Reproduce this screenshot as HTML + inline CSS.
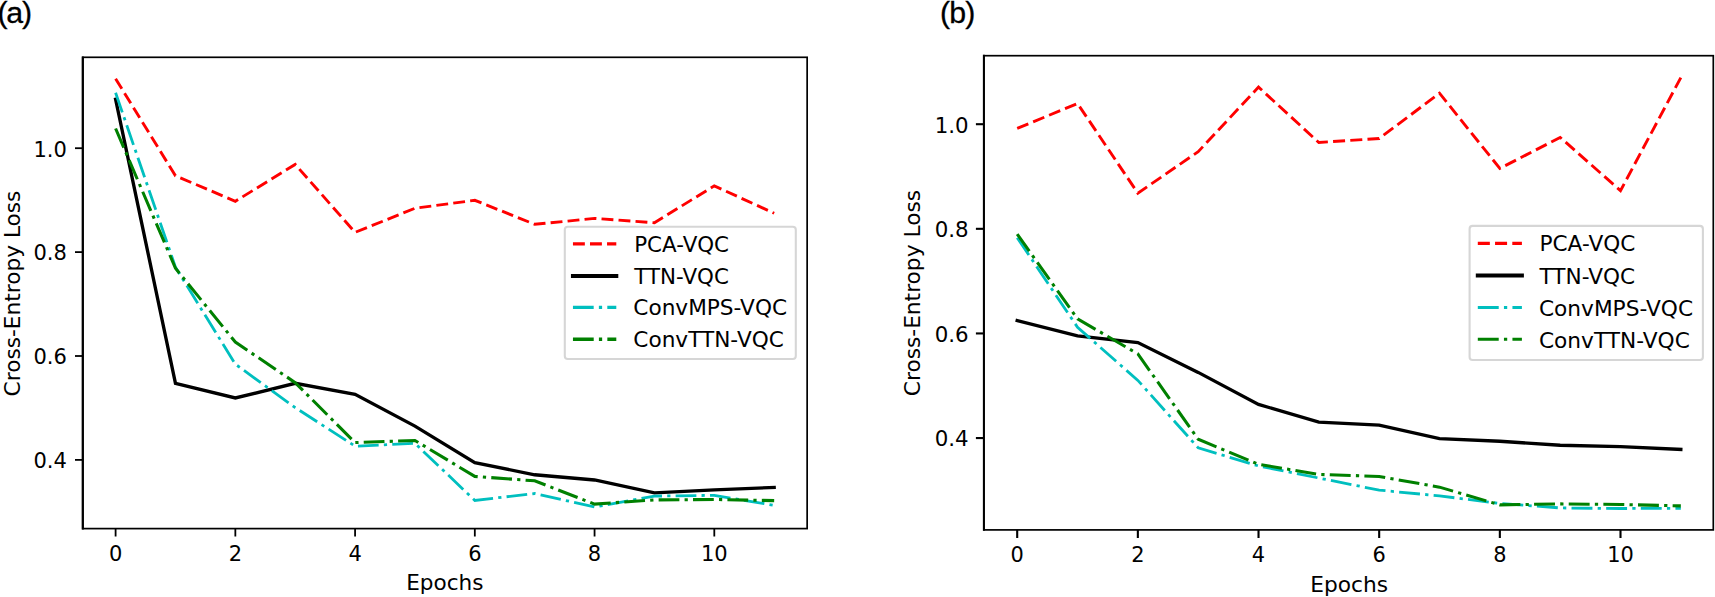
<!DOCTYPE html>
<html lang="en">
<head>
<meta charset="utf-8">
<title>Cross-Entropy Loss vs Epochs</title>
<style>
html,body{margin:0;padding:0;background:#fff;}
body{width:1715px;height:597px;overflow:hidden;}
svg{display:block;}
</style>
</head>
<body>
<svg width="1715" height="597" viewBox="0 0 1715 597" font-family="'DejaVu Sans', 'Liberation Sans', sans-serif">
<rect width="1715" height="597" fill="#fff"/>
<clipPath id="clip1"><rect x="82.9" y="57.3" width="724.25" height="471.3"/></clipPath>
<g clip-path="url(#clip1)" fill="none" stroke-width="3.22" stroke-linejoin="miter" stroke-miterlimit="6">
<polyline points="115.6,78.7 175.47,175.78 235.34,201.26 295.21,164.4 355.08,232.36 414.95,208.28 474.82,200.28 534.69,224.3 594.56,218.42 654.43,222.79 714.3,185.82 774.17,213.28" stroke="#ff0000" stroke-width="2.9" stroke-dasharray="11.899 5.146" stroke-linecap="butt"/>
<polyline points="115.6,99.24 175.47,383.32 235.34,397.98 295.21,383.32 355.08,394.29 414.95,426.11 474.82,462.72 534.69,474.78 594.56,479.98 654.43,492.88 714.3,489.92 774.17,487.42" stroke="#000000" stroke-width="3.35" stroke-linecap="square"/>
<polyline points="115.6,92.74 175.47,267.2 235.34,364.18 295.21,407.6 355.08,446.18 414.95,443.38 474.82,500.42 534.69,493.5 594.56,506.97 654.43,496.1 714.3,495.32 774.17,505.31" stroke="#00bfbf" stroke-width="2.8" stroke-dasharray="20.736 5.184 3.240 5.184" stroke-linecap="butt"/>
<polyline points="115.6,128.52 175.47,268.24 235.34,342.08 295.21,382.64 355.08,442.6 414.95,440.46 474.82,476.4 534.69,480.82 594.56,504.11 654.43,499.9 714.3,499.48 774.17,500.63" stroke="#008000" stroke-width="3.05" stroke-dasharray="20.768 5.192 3.245 5.192" stroke-linecap="butt"/>
</g>
<g stroke="#000" stroke-width="1.8" fill="none">
<line x1="115.6" y1="528.6" x2="115.6" y2="536.5"/>
<line x1="235.34" y1="528.6" x2="235.34" y2="536.5"/>
<line x1="355.08" y1="528.6" x2="355.08" y2="536.5"/>
<line x1="474.82" y1="528.6" x2="474.82" y2="536.5"/>
<line x1="594.56" y1="528.6" x2="594.56" y2="536.5"/>
<line x1="714.3" y1="528.6" x2="714.3" y2="536.5"/>
<line x1="82.9" y1="148.2" x2="75" y2="148.2"/>
<line x1="82.9" y1="252.1" x2="75" y2="252.1"/>
<line x1="82.9" y1="356" x2="75" y2="356"/>
<line x1="82.9" y1="459.9" x2="75" y2="459.9"/>
</g>
<rect x="82.9" y="57.3" width="724.25" height="471.3" fill="none" stroke="#000" stroke-width="1.7" stroke-linejoin="miter"/>
<line x1="82.75" y1="56.45" x2="82.75" y2="529.45" stroke="#000" stroke-width="2.2"/>
<g font-size="21.2" fill="#000">
<text x="115.6" y="560.5" text-anchor="middle" font-size="21.0">0</text>
<text x="235.34" y="560.5" text-anchor="middle" font-size="21.0">2</text>
<text x="355.08" y="560.5" text-anchor="middle" font-size="21.0">4</text>
<text x="474.82" y="560.5" text-anchor="middle" font-size="21.0">6</text>
<text x="594.56" y="560.5" text-anchor="middle" font-size="21.0">8</text>
<text x="714.3" y="560.5" text-anchor="middle" font-size="21.0">10</text>
<text x="66.9" y="156.7" text-anchor="end" font-size="21.0">1.0</text>
<text x="66.9" y="259.8" text-anchor="end" font-size="21.0">0.8</text>
<text x="66.9" y="364.3" text-anchor="end" font-size="21.0">0.6</text>
<text x="66.9" y="467.8" text-anchor="end" font-size="21.0">0.4</text>
<text x="406.15" y="590" textLength="77.3" lengthAdjust="spacingAndGlyphs" font-size="20.9">Epochs</text>
<text transform="translate(19.8,293.5) rotate(-90)" x="-102.9" y="0" textLength="205.8" lengthAdjust="spacingAndGlyphs" font-size="20.9">Cross-Entropy Loss</text>
</g>
<rect x="564.8" y="226.8" width="231" height="132.2" rx="3" ry="3" fill="#fff" fill-opacity="0.8" stroke="#cccccc" stroke-opacity="0.8" stroke-width="2.1"/>
<g font-size="21.4" fill="#000" stroke-width="3.22">
<line x1="572.95" y1="243.9" x2="616.3" y2="243.9" stroke="#ff0000" stroke-width="3.22" stroke-dasharray="11.899 5.146"/>
<text x="634.2" y="251.8" font-size="21.4">PCA-VQC</text>
<line x1="572.95" y1="275.9" x2="616.3" y2="275.9" stroke="#000000" stroke-width="4.0" stroke-linecap="square"/>
<text x="634.2" y="283.8" font-size="21.4">TTN-VQC</text>
<line x1="572.95" y1="307.4" x2="616.3" y2="307.4" stroke="#00bfbf" stroke-width="3.22" stroke-dasharray="20.736 5.184 3.240 5.184"/>
<text x="633.3" y="315.3" font-size="21.63">ConvMPS-VQC</text>
<line x1="572.95" y1="339.2" x2="616.3" y2="339.2" stroke="#008000" stroke-width="3.6" stroke-dasharray="20.768 5.192 3.245 5.192"/>
<text x="633.3" y="347.1" font-size="21.63">ConvTTN-VQC</text>
</g>
<clipPath id="clip2"><rect x="984" y="55.7" width="729.3" height="474.2"/></clipPath>
<g clip-path="url(#clip2)" fill="none" stroke-width="3.22" stroke-linejoin="miter" stroke-miterlimit="6">
<polyline points="1017.2,128.39 1077.53,103.52 1137.86,193.2 1198.19,151.68 1258.52,87.08 1318.85,142.52 1379.18,138.49 1439.51,93.21 1499.84,168.44 1560.17,137.39 1620.5,190.68 1680.83,77.61" stroke="#ff0000" stroke-width="2.9" stroke-dasharray="12.040 5.206" stroke-linecap="butt"/>
<polyline points="1017.2,320.51 1077.53,335.96 1137.86,342.6 1198.19,372.39 1258.52,404.43 1318.85,422.07 1379.18,425.11 1439.51,438.61 1499.84,441.23 1560.17,445.21 1620.5,446.62 1680.83,449.4" stroke="#000000" stroke-width="3.35" stroke-linecap="square"/>
<polyline points="1017.2,237.69 1077.53,327.32 1137.86,380.4 1198.19,447.83 1258.52,465.94 1318.85,478.03 1379.18,490.13 1439.51,495.88 1499.84,503.48 1560.17,507.93 1620.5,508.5 1680.83,508.34" stroke="#00bfbf" stroke-width="2.8" stroke-dasharray="20.915 5.229 3.268 5.229" stroke-linecap="butt"/>
<polyline points="1017.2,234.13 1077.53,318.84 1137.86,353.91 1198.19,439.19 1258.52,464.32 1318.85,474.42 1379.18,476.41 1439.51,487.14 1499.84,504.89 1560.17,503.89 1620.5,504.47 1680.83,505.88" stroke="#008000" stroke-width="3.05" stroke-dasharray="20.915 5.229 3.268 5.229" stroke-linecap="butt"/>
</g>
<g stroke="#000" stroke-width="2.1" fill="none">
<line x1="1017.2" y1="529.9" x2="1017.2" y2="538"/>
<line x1="1137.86" y1="529.9" x2="1137.86" y2="538"/>
<line x1="1258.52" y1="529.9" x2="1258.52" y2="538"/>
<line x1="1379.18" y1="529.9" x2="1379.18" y2="538"/>
<line x1="1499.84" y1="529.9" x2="1499.84" y2="538"/>
<line x1="1620.5" y1="529.9" x2="1620.5" y2="538"/>
<line x1="984" y1="124.2" x2="975.9" y2="124.2"/>
<line x1="984" y1="228.82" x2="975.9" y2="228.82"/>
<line x1="984" y1="333.44" x2="975.9" y2="333.44"/>
<line x1="984" y1="438.06" x2="975.9" y2="438.06"/>
</g>
<rect x="984" y="55.7" width="729.3" height="474.2" fill="none" stroke="#000" stroke-width="1.7" stroke-linejoin="miter"/>
<line x1="983.85" y1="54.85" x2="983.85" y2="530.75" stroke="#000" stroke-width="1.95"/>
<g font-size="21.2" fill="#000">
<text x="1017.2" y="562" text-anchor="middle" font-size="20.9">0</text>
<text x="1137.86" y="562" text-anchor="middle" font-size="20.9">2</text>
<text x="1258.52" y="562" text-anchor="middle" font-size="20.9">4</text>
<text x="1379.18" y="562" text-anchor="middle" font-size="20.9">6</text>
<text x="1499.84" y="562" text-anchor="middle" font-size="20.9">8</text>
<text x="1620.5" y="562" text-anchor="middle" font-size="20.9">10</text>
<text x="968.7" y="133.05" text-anchor="end" font-size="21.35">1.0</text>
<text x="968.7" y="236.77" text-anchor="end" font-size="21.35">0.8</text>
<text x="968.7" y="341.64" text-anchor="end" font-size="21.35">0.6</text>
<text x="968.7" y="445.96" text-anchor="end" font-size="21.35">0.4</text>
<text x="1310.3" y="591.6" textLength="77.8" lengthAdjust="spacingAndGlyphs" font-size="20.9">Epochs</text>
<text transform="translate(920.4,293.1) rotate(-90)" x="-103.15" y="0" textLength="206.3" lengthAdjust="spacingAndGlyphs" font-size="20.9">Cross-Entropy Loss</text>
</g>
<rect x="1469.6" y="225.9" width="233.3" height="134.1" rx="3" ry="3" fill="#fff" fill-opacity="0.8" stroke="#cccccc" stroke-opacity="0.8" stroke-width="2.1"/>
<g font-size="21.6" fill="#000" stroke-width="3.22">
<line x1="1477.8" y1="243.3" x2="1521.9" y2="243.3" stroke="#ff0000" stroke-width="3.22" stroke-dasharray="12.040 5.206"/>
<text x="1539.5" y="251.2" font-size="21.6">PCA-VQC</text>
<line x1="1477.8" y1="275.6" x2="1521.9" y2="275.6" stroke="#000000" stroke-width="4.0" stroke-linecap="square"/>
<text x="1539.5" y="283.5" font-size="21.6">TTN-VQC</text>
<line x1="1477.8" y1="307.5" x2="1521.9" y2="307.5" stroke="#00bfbf" stroke-width="3.0" stroke-dasharray="20.915 5.229 3.268 5.229"/>
<text x="1538.9" y="316.1" font-size="21.7">ConvMPS-VQC</text>
<line x1="1477.8" y1="339.2" x2="1521.9" y2="339.2" stroke="#008000" stroke-width="3.15" stroke-dasharray="20.915 5.229 3.268 5.229"/>
<text x="1538.9" y="347.5" font-size="21.7">ConvTTN-VQC</text>
</g>
<g font-family="'Liberation Sans', sans-serif" font-size="30.3" fill="#000" stroke="#000" stroke-width="0.3">
<text x="-2.6" y="22.5" letter-spacing="-1.2">(a)</text>
<text x="940.0" y="23.0" letter-spacing="-0.9">(b)</text>
</g>
</svg>
</body>
</html>
